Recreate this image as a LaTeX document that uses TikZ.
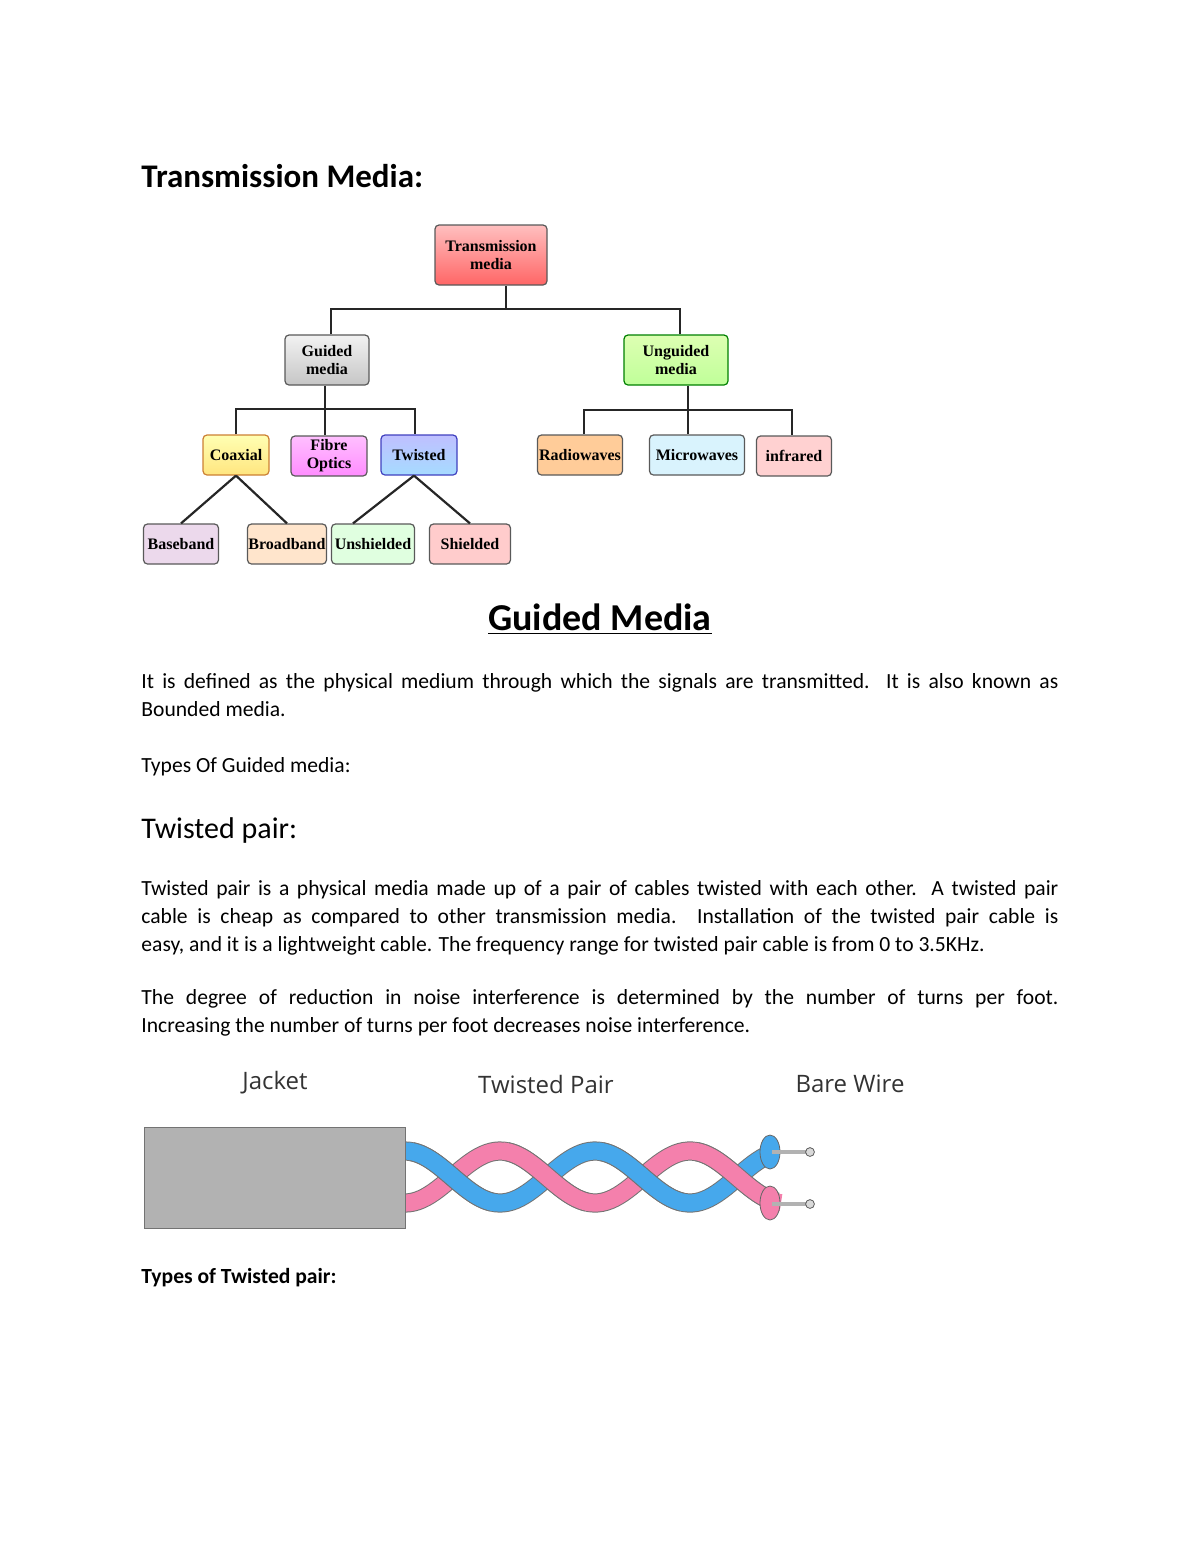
\documentclass[tikz,border=0pt]{standalone}
\usepackage{fontspec}
\setmainfont{Carlito}
\newfontfamily\treefont{Liberation Serif}
\newfontfamily\labfont{Open Sans}
\begin{document}
\begin{tikzpicture}[x=0.5pt,y=-0.5pt,
  tb/.style={draw=gray!70!black,rounded corners=2pt,line width=0.6pt,font=\treefont\bfseries\fontsize{8}{9}\selectfont,align=center,inner sep=0pt},
  conn/.style={line width=1.1pt,black!85},
  body/.style={anchor=north west,inner sep=0pt,text width=458.5pt,align=justify,font=\fontsize{10.8}{14}\selectfont},
  wire/.style={line width=8.6pt},
  wb/.style={line width=9.6pt,draw=black!55}]
\useasboundingbox (0,0) rectangle (1200,1553);
% headings
\node[anchor=base west,inner sep=0pt,font=\bfseries\fontsize{16.5}{18}\selectfont] (h1) at (141,187) {Transmission Media:};
% tree
\node[tb,minimum width=56pt,minimum height=30pt,top color=red!25,bottom color=red!60!white] (tm) at (491,255) {Transmission\\media};
\node[tb,minimum width=42pt,minimum height=25pt,top color=gray!10,bottom color=gray!45] (gm) at (327,360) {Guided\\media};
\node[tb,minimum width=52pt,minimum height=25pt,top color=green!25!lime!30,bottom color=green!50!lime!40!white,draw=green!50!black] (um) at (676,360) {Unguided\\media};
\node[tb,minimum width=33pt,minimum height=20pt,top color=yellow!30,bottom color=yellow!60!orange!50,draw=orange!60!gray] (co) at (236,455) {Coaxial};
\node[tb,minimum width=38pt,minimum height=20pt,top color=magenta!25,bottom color=magenta!45!white] (fo) at (329,456) {Fibre\\Optics};
\node[tb,minimum width=38pt,minimum height=20pt,top color=blue!25,bottom color=blue!40!cyan!35,draw=blue!50!gray] (tw) at (419,455) {Twisted};
\node[tb,minimum width=42.5pt,minimum height=20pt,fill=orange!40] (rw) at (580,455) {Radiowaves};
\node[tb,minimum width=47.5pt,minimum height=20pt,fill=cyan!15] (mw) at (697,455) {Microwaves};
\node[tb,minimum width=37.5pt,minimum height=20pt,fill=red!18] (ir) at (794,456) {infrared};
\node[tb,minimum width=37.5pt,minimum height=20pt,fill=violet!15] (bb) at (181,544) {Baseband};
\node[tb,minimum width=39.5pt,minimum height=20pt,fill=orange!20] (br) at (287,544) {Broadband};
\node[tb,minimum width=41.5pt,minimum height=20pt,fill=green!12] (us) at (373,544) {Unshielded};
\node[tb,minimum width=40.5pt,minimum height=20pt,fill=red!20] (sh) at (470,544) {Shielded};
\coordinate (j1) at (506,309);
\coordinate (j2) at (325,409);
\coordinate (j3) at (688,410);
\draw[conn] (tm.south -| j1) -- (j1);
\draw[conn] (gm.north -| 331,0) -- (331,309) -- (680,309) -- (um.north -| 680,0);
\draw[conn] (gm.south -| j2) -- (j2);
\draw[conn] (co.north) -- (236,409) -- (415,409) -- (tw.north -| 415,0);
\draw[conn,line width=0.8pt] (j2) -- (fo.north -| j2);
\draw[conn] (um.south -| j3) -- (j3) -- (mw.north -| j3);
\draw[conn] (rw.north -| 584,0) -- (584,410) -- (792,410) -- (ir.north -| 792,0);
\draw[conn] (co.south) -- (bb.north);
\draw[conn] (co.south) -- (br.north);
\draw[conn] (tw.south -| 414,0) -- (us.north -| 353,0);
\draw[conn] (tw.south -| 414,0) -- (sh.north);
% Guided Media
\node[anchor=base,inner sep=0pt,font=\bfseries\fontsize{19}{22}\selectfont] (gh) at (600,630) {\underline{Guided Media}};
\node[body] (p1) at (141,673) {It is defined as the physical medium through which the signals are transmitted. It is also known as\linebreak Bounded media.};
\node[anchor=base west,inner sep=0pt,font=\fontsize{10.8}{14}\selectfont] (p2) at (141,772) {Types Of Guided media:};
\node[anchor=base west,inner sep=0pt,font=\fontsize{15}{18}\selectfont] (h2) at (141,838) {Twisted pair:};
\node[body] (p3) at (141,880) {Twisted pair is a physical media made up of a pair of cables twisted with each other. A twisted pair\linebreak cable is cheap as compared to other transmission media. Installation of the twisted pair cable is\linebreak easy, and it is a lightweight cable. The frequency range for twisted pair cable is from 0 to 3.5KHz.};
\node[body] (p4) at (141,989) {The degree of reduction in noise interference is determined by the number of turns per foot.\linebreak Increasing the number of turns per foot decreases noise interference.};
% cable labels
\node[inner sep=0pt,font=\labfont\fontsize{12}{14}\selectfont,text=black!80] (lj) at (275,1083) {Jacket};
\node[inner sep=0pt,font=\labfont\fontsize{12}{14}\selectfont,text=black!80] (lt) at (546,1084) {Twisted Pair};
\node[inner sep=0pt,font=\labfont\fontsize{12}{14}\selectfont,text=black!80] (lb) at (850,1084) {Bare Wire};
% wires
\definecolor{pk}{RGB}{244,128,172}
\definecolor{bl}{RGB}{70,168,236}
\draw[gray!60,line width=2.2pt] (770,1152) -- (808,1152);
\draw[gray!60,line width=2.2pt] (770,1204) -- (808,1204);
\draw[gray!70!black,fill=gray!30] (810,1152) circle (2.2pt);
\draw[gray!70!black,fill=gray!30] (810,1204) circle (2.2pt);
\draw[wb] plot[domain=0:365,samples=90] ({405+\x},{1177+26*cos(1.8947*\x)});
\draw[wire,draw=pk] plot[domain=0:365,samples=90] ({405+\x},{1177+26*cos(1.8947*\x)});
\draw[wb] plot[domain=0:365,samples=90] ({405+\x},{1177-26*cos(1.8947*\x)});
\draw[wire,draw=bl] plot[domain=0:365,samples=90] ({405+\x},{1177-26*cos(1.8947*\x)});
\foreach \c in {142,332}{
\draw[wb] plot[domain=\c-40:\c+40,samples=30] ({405+\x},{1177+26*cos(1.8947*\x)});
\draw[wire,draw=pk] plot[domain=\c-44:\c+44,samples=30] ({405+\x},{1177+26*cos(1.8947*\x)});}
\foreach \c in {47,237}{
\draw[wb] plot[domain=\c-40:\c+40,samples=30] ({405+\x},{1177-26*cos(1.8947*\x)});
\draw[wire,draw=bl] plot[domain=\c-44:\c+44,samples=30] ({405+\x},{1177-26*cos(1.8947*\x)});}
\draw[black!60,fill=bl] (770,1152) ellipse (5pt and 8.5pt);
\draw[black!60,fill=pk] (770,1203) ellipse (5pt and 8.5pt);
\draw[gray!60,line width=2.2pt] (772,1152) -- (790,1152);
\draw[gray!60,line width=2.2pt] (772,1204) -- (790,1204);
% jacket
\draw[fill=gray!60,draw=gray!90!black] (144,1127) rectangle (405,1228);
\node[anchor=base west,inner sep=0pt,font=\bfseries\fontsize{10.8}{14}\selectfont] (p5) at (141,1283) {Types of Twisted pair:};
\end{tikzpicture}
\end{document}
